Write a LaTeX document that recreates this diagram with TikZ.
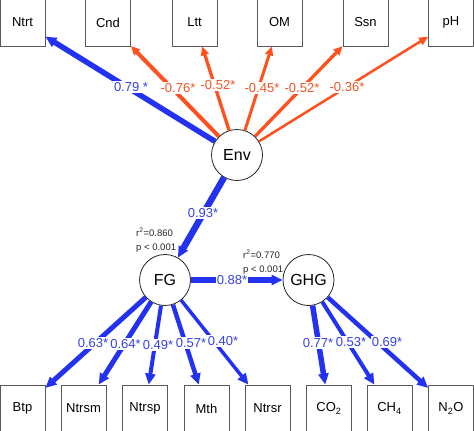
\documentclass[tikz,border=0pt]{standalone}
\usepackage{fontspec}
\setmainfont{Liberation Sans}
\usetikzlibrary{arrows.meta}
\definecolor{lblue}{RGB}{35,50,240}
\definecolor{lorange}{RGB}{255,80,30}
\definecolor{tblue}{RGB}{55,65,230}
\definecolor{torange}{RGB}{240,85,35}
\begin{document}
\begin{tikzpicture}[x=1pt,y=-1pt,
  var/.style={draw=black!65,line width=0.8pt,minimum width=45pt,minimum height=47pt,inner sep=0pt,font=\fontsize{13}{15}\selectfont},
  lat/.style={circle,draw=black!85,line width=0.8pt,fill=white,minimum size=51pt,inner sep=0pt,font=\fontsize{16}{18}\selectfont},
  bpath/.style={draw=lblue,-{Triangle[length=11pt,width=10pt]}},
  opath/.style={draw=lorange,-{Triangle[length=9pt,width=8pt]}},
  blab/.style={fill=white,inner sep=1pt,text=tblue,font=\fontsize{13}{15}\selectfont},
  olab/.style={fill=white,inner sep=1pt,text=torange,font=\fontsize{13}{15}\selectfont},
  stat/.style={align=left,anchor=west,font=\fontsize{9.5}{14}\selectfont,inner sep=0pt,text=black!85}
]
\useasboundingbox (0,0) rectangle (474,431);
% top indicators
\node[var] (ntrt) at (22.5,22.5) {Ntrt};
\node[var] (cnd)  at (108,22.5) {Cnd};
\node[var] (ltt)  at (194.5,22.5) {Ltt};
\node[var] (om)   at (279.5,22.5) {OM};
\node[var] (ssn)  at (365.5,22.5) {Ssn};
\node[var] (ph)   at (451,22.5) {pH};
% bottom indicators
\node[var] (btp)   at (22.5,408.5) {Btp};
\node[var] (ntrsm) at (83.5,408.5) {Ntrsm};
\node[var] (ntrsp) at (145,408.5) {Ntrsp};
\node[var] (mth)   at (206.5,408.5) {Mth};
\node[var] (ntrsr) at (267.5,408.5) {Ntrsr};
\node[var] (co2)   at (329,408.5) {CO\textsubscript{2}};
\node[var] (ch4)   at (389.5,408.5) {CH\textsubscript{4}};
\node[var] (n2o)   at (451,408.5) {N\textsubscript{2}O};
% latent
\node[lat] (env) at (237,155) {Env};
\node[lat] (fg)  at (165,280) {FG};
\node[lat] (ghg) at (308.5,280) {GHG};
% paths
\draw[bpath,line width=5.5pt] (env) -- (ntrt);
\draw[opath,line width=4pt] (env) -- (cnd);
\draw[opath,line width=3.3pt] (env) -- (ltt);
\draw[opath,line width=3pt] (env) -- (om);
\draw[opath,line width=3.3pt] (env) -- (ssn);
\draw[opath,line width=2.5pt] (env) -- (ph);
\draw[bpath,line width=6.5pt] (env) -- (fg);
\draw[bpath,line width=6.5pt] (fg) -- (ghg);
\draw[bpath,line width=5pt] (fg) -- (btp);
\draw[bpath,line width=5pt] (fg) -- (ntrsm);
\draw[bpath,line width=4pt] (fg) -- (ntrsp);
\draw[bpath,line width=4.5pt] (fg) -- (mth);
\draw[bpath,line width=3.5pt] (fg) -- (ntrsr);
\draw[bpath,line width=5.5pt] (ghg) -- (co2);
\draw[bpath,line width=4pt] (ghg) -- (ch4);
\draw[bpath,line width=4.5pt] (ghg) -- (n2o);
% labels
\node[blab] (l1) at (131,87) {0.79 *};
\node[olab] (l2) at (178,88) {-0.76*};
\node[olab] (l3) at (218,85) {-0.52*};
\node[olab] (l4) at (262,88) {-0.45*};
\node[olab] (l5) at (302,88) {-0.52*};
\node[olab] (l6) at (347,87) {-0.36*};
\node[blab] (l7) at (203,213) {0.93*};
\node[blab] (l8) at (232,280) {0.88*};
\node[blab] (l9)  at (93,343) {0.63*};
\node[blab] (l10) at (125.5,344) {0.64*};
\node[blab] (l11) at (158,345) {0.49*};
\node[blab] (l12) at (191,343) {0.57*};
\node[blab] (l13) at (223,341) {0.40*};
\node[blab] (l14) at (318,343) {0.77*};
\node[blab] (l15) at (351,342) {0.53*};
\node[blab] (l16) at (387,342) {0.69*};
% r-squared
\node[stat] (s1) at (136,240) {r\textsuperscript{2}=0.860\\p < 0.001};
\node[stat] (s2) at (243,262) {r\textsuperscript{2}=0.770\\p < 0.001};
\end{tikzpicture}
\end{document}
